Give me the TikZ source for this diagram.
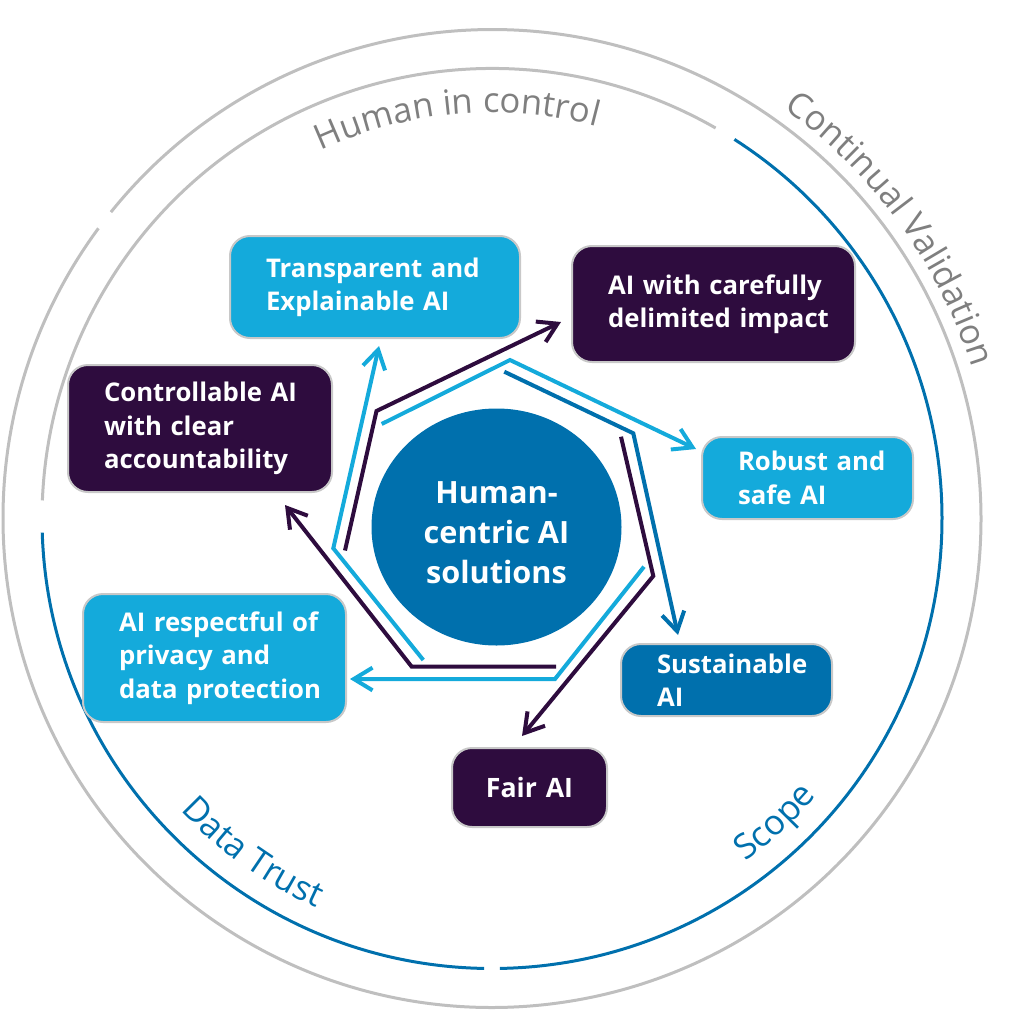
\documentclass[tikz,border=0pt]{standalone}
\usepackage{fontspec}
\setmainfont{Open Sans}
\usetikzlibrary{arrows.meta,calc,shapes.geometric,decorations.text}

\definecolor{cyanbox}{RGB}{20,170,219}
\definecolor{plumbox}{RGB}{46,12,62}
\definecolor{bluebox}{RGB}{0,112,173}
\definecolor{ringgray}{RGB}{191,191,191}
\definecolor{labelgray}{RGB}{127,127,127}
\definecolor{cardedge}{RGB}{200,200,200}

\newcommand{\graylabel}{\color{labelgray}\fontsize{26}{30}\selectfont}
\newcommand{\bluelabel}{\color{bluebox}\fontsize{26}{30}\selectfont}
\hfuzz=40pt
\hyphenpenalty=10000
\exhyphenpenalty=10000

\tikzset{every picture/.style={line width=0.75pt}}
\tikzset{
  ring/.style={line width=2.25pt},
  card/.style={rounded corners=15pt, draw=cardedge, line width=1.5pt, text=white, align=left,
    inner xsep=27pt, inner ysep=0pt, font=\fontsize{19.3}{25}\selectfont\bfseries},
  cyancard/.style={card, fill=cyanbox},
  plumcard/.style={card, fill=plumbox},
  bluecard/.style={card, fill=bluebox},
  flow/.style={line width=3pt, -{Straight Barb[length=14pt,width=17pt]}},
}

\begin{document}
\begin{tikzpicture}[x=0.75pt,y=0.75pt,yscale=-1,xscale=1]
\useasboundingbox (0,0) rectangle (1018,1010);
\coordinate (o) at (492,518.5);

%Shape: Circle (outer ring, open at upper left)
\draw [ring, color=ringgray] (o) ++(-143.6:489) arc [start angle=-143.6, end angle=-501.2, radius=489] ;
%Shape: Arc (inner ring)
\draw [ring, color=ringgray] (o) ++(-60.2:450) arc [start angle=-60.2, end angle=-177.7, radius=450] ;
\draw [ring, color=bluebox] (o) ++(-181.8:450) arc [start angle=-181.8, end angle=-269, radius=450] ;
\draw [ring, color=bluebox] (o) ++(-271:450) arc [start angle=-271, end angle=-417.4, radius=450] ;

% Ring labels
\path [decorate, decoration={text along path, text align=center, text={|\graylabel|Human in control}}]
  (o) ++(-125:406) arc [start angle=-125, end angle=-65, radius=406] ;
\path [decorate, decoration={text along path, text align=center, text={|\graylabel|Continual Validation}}]
  (o) ++(-66:503) arc [start angle=-66, end angle=-6, radius=503] ;
\path [decorate, decoration={text along path, text align=center, text={|\bluelabel|Data Trust}}]
  (o) ++(-204.4:427) arc [start angle=-204.4, end angle=-264.4, radius=427] ;
\path [decorate, decoration={text along path, text align=center, text={|\bluelabel|Scope}}]
  (o) ++(-293:427) arc [start angle=-293, end angle=-333, radius=427] ;

%Shape: Ellipse (hub)
\fill [color=bluebox] (496.5,527) ellipse [x radius=125, y radius=118.5] ;
% Text Node
\node [text=white, align=center, inner sep=0pt, font=\fontsize{23}{30}\selectfont\bfseries] (hub) at (496.5,533) {Human-\\centric~AI\\solutions};

% Boxes
\node [cyancard, text width=163.5pt, minimum height=76.5pt] (trans) at (375,287) {Transparent~and\\Explainable~AI};
\node [plumcard, text width=158.25pt, minimum height=87pt] (impact) at (713.5,304) {AI~with~carefully\\delimited~impact};
\node [plumcard, text width=144pt, minimum height=95.25pt] (ctrl) at (200,428.5) {Controllable~AI\\with~clear\\accountability};
\node [cyancard, text width=104.25pt, minimum height=61.5pt] (robust) at (807.5,478) {Robust~and\\safe~AI};
\node [bluecard, text width=104.25pt, minimum height=54pt] (sust) at (726.5,680) {Sustainable\\AI};
\node [plumcard, text width=116.25pt, minimum height=59.25pt, inner xsep=0pt, align=center, font=\fontsize{20}{24}\selectfont\bfseries] (fair) at (529.5,787.5) {Fair~AI};
\node [cyancard, text width=143.25pt, minimum height=96pt] (priv) at (214.5,658) {AI~respectful~of\\privacy~and\\data~protection};

%Straight Lines (heptagon arrows)
\coordinate (p1a) at (345,550.5); \coordinate (p1b) at (376.5,411);
\draw [flow, color=plumbox] (p1a) -- (p1b) -- ($(impact.north west)+(-10,77)$) ;
\coordinate (p2a) at (621,436.7); \coordinate (p2b) at (653.3,576);
\draw [flow, color=plumbox] (p2a) -- (p2b) -- ($(fair.north west)+(71,-11)$) ;
\coordinate (p3a) at (556,666.7); \coordinate (p3b) at (411.7,666.7);
\draw [flow, color=plumbox] (p3a) -- (p3b) -- ($(ctrl.south east)+(-48,12)$) ;
\coordinate (l1a) at (381.7,424); \coordinate (l1b) at (510,360);
\draw [flow, color=cyanbox] (l1a) -- (l1b) -- ($(robust.north west)+(-5,13)$) ;
\coordinate (l2a) at (644,566.7); \coordinate (l2b) at (555,679);
\draw [flow, color=cyanbox] (l2a) -- (l2b) -- ($(priv.north east)+(3,86)$) ;
\coordinate (l3a) at (423.3,660); \coordinate (l3b) at (333.3,548.3);
\draw [flow, color=cyanbox] (l3a) -- (l3b) -- ($(trans.south west)+(150,7)$) ;
\coordinate (m1a) at (504.3,371.7); \coordinate (m1b) at (633.3,433.3);
\draw [flow, color=bluebox] (m1a) -- (m1b) -- ($(sust.north west)+(58,-8)$) ;

\end{tikzpicture}
\end{document}
